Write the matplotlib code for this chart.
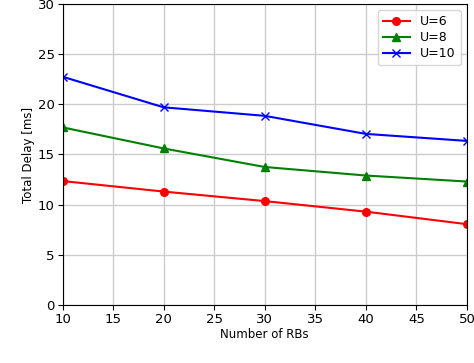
import numpy as np
import matplotlib.pyplot as plt

# data
rbs = [10, 20, 30, 40, 50]
delay_u6 = [12.35, 11.3, 10.35, 9.3, 8.05]
delay_u8 = [17.7, 15.6, 13.75, 12.9, 12.3]
delay_u10 = [22.75, 19.7, 18.85, 17.05, 16.35]

fig = plt.figure(figsize=(4.74, 3.63), dpi=100)
ax = fig.add_axes([0.132, 0.160, 0.853, 0.829])

ax.plot(rbs, delay_u6, color='red', marker='o', markersize=5.5, label='U=6')
ax.plot(rbs, delay_u8, color='green', marker='^', markersize=5.5, label='U=8')
ax.plot(rbs, delay_u10, color='blue', marker='x', markersize=5.5, label='U=10')

ax.set_xlim(10, 50)
ax.set_ylim(0, 30)
ax.set_xlabel('Number of RBs', fontsize=8.5, labelpad=2)
ax.set_ylabel('Total Delay [ms]', fontsize=8.5, labelpad=2)
ax.tick_params(labelsize=9.5, pad=2)
ax.grid(True, color='#cccccc', linewidth=1.0)
ax.legend(loc='upper right', fontsize=9, handlelength=2.2, labelspacing=0.25,
          borderpad=0.4)

fig.savefig('out.png', dpi=100)
